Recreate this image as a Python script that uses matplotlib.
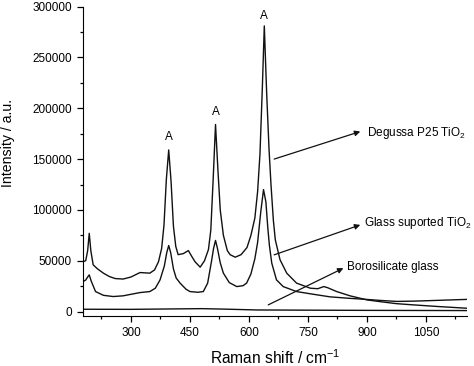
import matplotlib
matplotlib.use("Agg")
import matplotlib.pyplot as plt
from matplotlib.ticker import MultipleLocator

plt.rcParams['font.family'] = ['Liberation Sans', 'DejaVu Sans']
plt.rcParams['mathtext.fontset'] = 'custom'
plt.rcParams['mathtext.rm'] = 'Liberation Sans'

# Degussa P25 TiO2
wn_p25 = [178, 185, 190, 194, 198, 204, 215, 230, 245, 260, 280, 300, 323, 348, 360,
          370, 378, 384, 390, 396, 402, 408, 414, 420, 433, 446, 455, 463, 476, 487,
          497, 503, 509, 515, 521, 527, 535, 545, 552, 565, 580, 595, 605, 615, 622,
          628, 634, 639, 645, 651, 656, 662, 667, 679, 696, 721, 756, 775, 790, 800,
          823, 857, 900, 933, 975, 1018, 1080, 1154]
int_p25 = [49200, 50000, 60000, 77000, 60000, 46000, 42000, 37800, 34500, 32500, 32000,
           34000, 38400, 37800, 41000, 49000, 62000, 85000, 130000, 159000, 128000,
           84000, 64000, 56000, 57000, 60000, 54000, 49000, 43700, 50000, 61000, 80000,
           130000, 184000, 140000, 100000, 75000, 60000, 56000, 53500, 56000, 63000,
           75000, 92000, 118000, 155000, 220000, 281000, 215000, 160000, 125000, 90000,
           70500, 51000, 37800, 28000, 23000, 22500, 24600, 23500, 19700, 15500, 11500,
           9800, 7800, 6600, 5000, 3300]

# glass supported TiO2
wn_glass = [178, 185, 190, 194, 199, 210, 230, 255, 280, 300, 323, 348, 362, 374, 385,
            391, 396, 401, 408, 415, 425, 440, 450, 470, 484, 495, 505, 510, 515, 520,
            527, 535, 550, 569, 585, 594, 605, 615, 622, 630, 637, 643, 648, 652, 658,
            670, 687, 721, 756, 806, 857, 891, 933, 976, 1020, 1061, 1154]
int_glass = [29500, 31000, 34000, 36100, 30000, 19700, 16000, 14800, 15500, 17000, 18700,
             19700, 23000, 31200, 45000, 58000, 65000, 58000, 42000, 33000, 28000, 22000,
             19700, 19000, 19700, 28000, 50000, 62000, 70000, 62000, 48000, 37800, 28500,
             24600, 25500, 28000, 37000, 52000, 68000, 98000, 120000, 108000, 82000,
             65000, 47600, 31200, 24600, 19700, 17500, 14500, 13000, 12200, 11000, 10000,
             10300, 10800, 12000]

# borosilicate glass
wn_boro = [178, 300, 400, 480, 540, 620, 750, 900, 1154]
int_boro = [2300, 2200, 2600, 2900, 2400, 1600, 1400, 1200, 1000]

peak_pos = [396, 515, 639]
peak_lab_y = [172000, 196000, 291000]

fig = plt.figure(figsize=(4.74, 3.66), dpi=100)
ax = fig.add_axes([0.175, 0.137, 0.81, 0.845])

lc = '#111111'
ax.plot(wn_p25, int_p25, color=lc, lw=1.0)
ax.plot(wn_glass, int_glass, color=lc, lw=1.0)
ax.plot(wn_boro, int_boro, color=lc, lw=1.0)

for x, y in zip(peak_pos, peak_lab_y):
    ax.text(x, y, 'A', ha='center', va='center', fontsize=8.5)

arrows = [
    ('Degussa P25 TiO$_\\mathregular{2}$', (664, 150000), (883, 177100), (900, 176100)),
    ('Glass suported TiO$_\\mathregular{2}$', (664, 55800), (883, 85300), (893, 87000)),
    ('Borosilicate glass', (649, 6600), (840, 42700), (849, 44300)),
]
for label, tail, head, tpos in arrows:
    ax.annotate('', xy=head, xytext=tail,
                arrowprops=dict(arrowstyle='-|>', color=lc, lw=0.9,
                                mutation_scale=8, shrinkA=0, shrinkB=0))
    ax.text(tpos[0], tpos[1], label, ha='left', va='center', fontsize=8.5)

ax.set_xlim(178, 1154)
ax.set_ylim(-4200, 300000)
ax.xaxis.set_major_locator(MultipleLocator(150))
ax.xaxis.set_minor_locator(MultipleLocator(75))
ax.yaxis.set_major_locator(MultipleLocator(50000))
ax.yaxis.set_minor_locator(MultipleLocator(25000))
ax.spines['top'].set_visible(False)
ax.spines['right'].set_visible(False)
ax.tick_params(which='major', length=4.5, width=0.9, labelsize=8.5, direction='out')
ax.tick_params(which='minor', length=2.5, width=0.9, direction='out')

ax.set_xlabel('Raman shift / cm$^{\\mathregular{-1}}$', fontsize=11.2, labelpad=7)
ax.set_ylabel('Intensity / a.u.', fontsize=10.2)
ax.yaxis.set_label_coords(-0.177, 0.56)

fig.savefig('out.png', dpi=100)
